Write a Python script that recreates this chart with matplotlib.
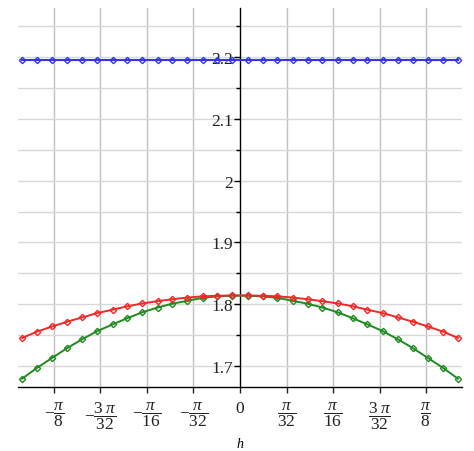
import numpy as np
import matplotlib
matplotlib.use("Agg")
import matplotlib.pyplot as plt
from matplotlib.ticker import FixedLocator

plt.rcParams['font.family'] = ['Liberation Serif', 'DejaVu Serif']
plt.rcParams['mathtext.fontset'] = 'custom'
plt.rcParams['mathtext.rm'] = 'Liberation Serif'
plt.rcParams['mathtext.it'] = 'Liberation Serif:italic'
plt.rcParams['mathtext.bf'] = 'Liberation Serif:bold'

# sample points (h)
h = [-0.460, -0.428, -0.396, -0.365, -0.333, -0.301, -0.269, -0.238, -0.206, -0.174,
     -0.143, -0.111, -0.079, -0.048, -0.016, 0.016, 0.048, 0.079, 0.111, 0.143,
     0.174, 0.206, 0.238, 0.269, 0.301, 0.333, 0.365, 0.396, 0.428, 0.460]

blue_vals = [2.195] * 30

red_vals = [1.7450, 1.7554, 1.7638, 1.7713, 1.7784, 1.7854, 1.7908, 1.7963, 1.8010, 1.8046,
            1.8078, 1.8105, 1.8125, 1.8134, 1.8140, 1.8140, 1.8134, 1.8125, 1.8105, 1.8078,
            1.8046, 1.8010, 1.7963, 1.7908, 1.7854, 1.7784, 1.7713, 1.7638, 1.7554, 1.7450]

green_vals = [1.6790, 1.6968, 1.7130, 1.7285, 1.7430, 1.7562, 1.7670, 1.7770, 1.7867, 1.7943,
              1.8005, 1.8053, 1.8100, 1.8125, 1.8135, 1.8135, 1.8125, 1.8100, 1.8053, 1.8005,
              1.7943, 1.7867, 1.7770, 1.7670, 1.7562, 1.7430, 1.7285, 1.7130, 1.6968, 1.6790]

x_tick_vals = [-np.pi/8, -3*np.pi/32, -np.pi/16, -np.pi/32, 0,
               np.pi/32, np.pi/16, 3*np.pi/32, np.pi/8]
x_tick_labels = [r'$-\dfrac{\pi}{8}$', r'$-\dfrac{3\;\pi}{32}$', r'$-\dfrac{\pi}{16}$',
                 r'$-\dfrac{\pi}{32}$', '0', r'$\dfrac{\pi}{32}$', r'$\dfrac{\pi}{16}$',
                 r'$\dfrac{3\;\pi}{32}$', r'$\dfrac{\pi}{8}$']
y_tick_vals = [1.7, 1.8, 1.9, 2.0, 2.1, 2.2]
y_tick_labels = ['1.7', '1.8', '1.9', '2', '2.1', '2.2']

fig = plt.figure(figsize=(4.74, 4.52), dpi=100)
ax = fig.add_axes([18/474, 1 - 388.3/452, (462-18)/474, (388.3-9.3)/452])

ax.set_xlim(-0.4687, 0.4687)
ax.set_ylim(1.665, 2.2795)

# grid
for xv in x_tick_vals:
    if xv != 0:
        ax.axvline(xv, color='#c0c0c0', lw=1.0, zorder=0)
for yv in np.arange(1.70, 2.26, 0.05):
    ax.axhline(yv, color='#d8d8d8', lw=1.0, zorder=0)

mk = dict(marker='D', markersize=3.2, markerfacecolor='none', markeredgewidth=1.0)
ax.plot(h, blue_vals, color='#3535e8', lw=1.5, zorder=3, **mk)
ax.plot(h, green_vals, color='#1f8a1f', lw=1.4, zorder=3, **mk)
ax.plot(h, red_vals, color='#f02828', lw=1.4, zorder=4, **mk)

for s in ['top', 'right']:
    ax.spines[s].set_visible(False)
ax.spines['left'].set_position(('data', 0))
ax.spines['left'].set_linewidth(1.0)
ax.spines['bottom'].set_linewidth(1.0)

ax.set_xticks(x_tick_vals)
ax.set_xticklabels(x_tick_labels, fontsize=12.5)
ax.set_yticks(y_tick_vals)
ax.set_yticklabels(y_tick_labels, fontsize=12.5, color='#222222')
ax.yaxis.set_minor_locator(FixedLocator([1.75, 1.85, 1.95, 2.05, 2.15, 2.25]))
ax.tick_params(axis='x', direction='out', length=4, width=1, pad=5, colors='#222222')
ax.tick_params(axis='y', which='major', direction='out', length=4, width=1, pad=1)
ax.tick_params(axis='y', which='minor', direction='out', length=3, width=1)

ax.patch.set_alpha(0)
fig.text(240/474, 0.003, 'h', ha='center', va='bottom', fontsize=10, style='italic')

fig.savefig('out.png', dpi=100)
